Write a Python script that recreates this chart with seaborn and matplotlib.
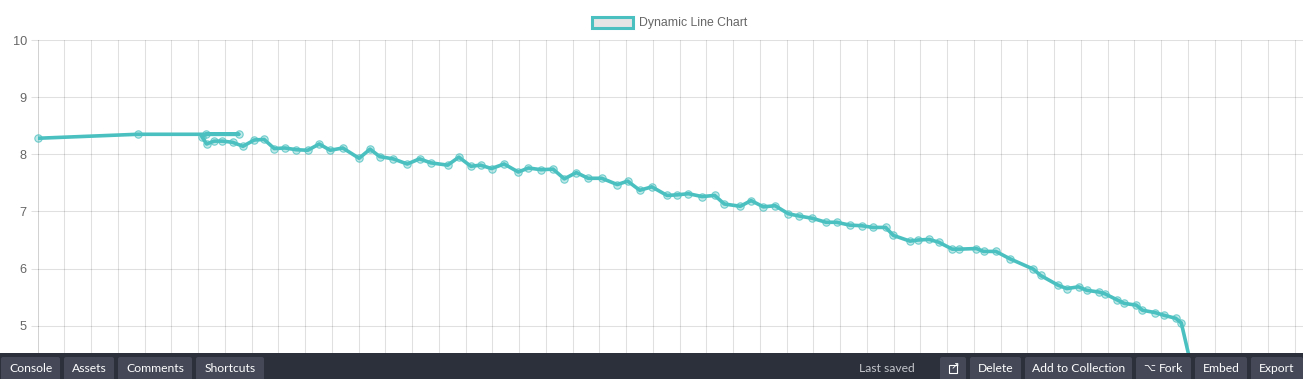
import matplotlib
matplotlib.use("Agg")
import matplotlib.pyplot as plt
import seaborn as sns
import numpy as np
from matplotlib.patches import Patch, Rectangle, FancyBboxPatch
from matplotlib.transforms import IdentityTransform

W, H = 1303, 379

# Values (x in grid-column units)
x_values = [0.0, 3.74, 7.52, 6.30, 6.14, 6.32, 6.60, 6.91, 7.29, 7.68, 8.10, 8.47, 8.85, 9.25, 9.67, 10.10,
            10.53, 10.94, 11.41, 12.02, 12.43, 12.79, 13.29, 13.82, 14.28, 14.70, 15.33, 15.75, 16.20, 16.56,
            16.97, 17.44, 17.97, 18.35, 18.82, 19.27, 19.69, 20.14, 20.58, 21.09, 21.67, 22.06, 22.51, 22.96,
            23.53, 23.91, 24.33, 24.84, 25.31, 25.67, 26.27, 26.67, 27.13, 27.57, 28.06, 28.46, 28.96, 29.47,
            29.87, 30.36, 30.80, 31.22, 31.70, 31.99, 32.61, 32.92, 33.33, 33.69, 34.19, 34.45, 35.09, 35.36,
            35.82, 36.35, 37.22, 37.49, 38.14, 38.47, 38.91, 39.21, 39.66, 39.89, 40.36, 40.62, 41.07, 41.30,
            41.77, 42.12, 42.54, 42.75, 43.27]
y_values = [8.28, 8.35, 8.35, 8.35, 8.31, 8.18, 8.23, 8.23, 8.21, 8.14, 8.25, 8.26, 8.10, 8.11, 8.08, 8.07,
            8.18, 8.07, 8.11, 7.93, 8.09, 7.96, 7.92, 7.83, 7.92, 7.85, 7.81, 7.95, 7.79, 7.81,
            7.75, 7.83, 7.69, 7.76, 7.73, 7.74, 7.57, 7.68, 7.58, 7.58, 7.47, 7.53, 7.37, 7.43,
            7.28, 7.29, 7.31, 7.26, 7.28, 7.13, 7.09, 7.19, 7.08, 7.10, 6.96, 6.92, 6.88, 6.81,
            6.81, 6.76, 6.75, 6.72, 6.72, 6.58, 6.48, 6.50, 6.51, 6.46, 6.34, 6.34, 6.35, 6.30,
            6.30, 6.17, 5.99, 5.88, 5.71, 5.65, 5.68, 5.62, 5.59, 5.56, 5.45, 5.39, 5.36, 5.27,
            5.23, 5.18, 5.13, 5.05, 4.00]
y_ticks = [5, 6, 7, 8, 9, 10]
series_label = "Dynamic Line Chart"
left_buttons = ["Console", "Assets", "Comments", "Shortcuts"]
right_buttons = ["Delete", "Add to Collection", "Fork", "Embed", "Export"]
status_text = "Last saved"

TEAL = "#4bc0c0"
GRID_ALPHA = 0.12
LABEL = "#666666"
BAR = "#2c303a"
BTN = "#444857"
BTN_TEXT = "#ffffff"

sns.set_style("white")
plt.rcParams["font.family"] = ["Liberation Sans", "DejaVu Sans"]

fig = plt.figure(figsize=(W / 100, H / 100), dpi=100, facecolor="white")
AX_L, AX_T, AX_B = 37.5, 40.0, 353
ax = fig.add_axes([AX_L / W, 1 - AX_B / H, 1 - AX_L / W, (AX_B - AX_T) / H])
ax.set_facecolor("white")

sns.lineplot(x=x_values, y=y_values, sort=False, estimator=None, color=TEAL, linewidth=2.6, ax=ax, zorder=3,
             solid_joinstyle="round", solid_capstyle="round")
sns.scatterplot(x=x_values[:-1], y=y_values[:-1], s=28, marker="o", facecolor=(75 / 255, 192 / 255, 192 / 255, 0.35),
                edgecolor=(75 / 255, 192 / 255, 192 / 255, 0.75), linewidth=0.8, ax=ax, zorder=4, clip_on=False)

ax.set_xlim(0, (W - AX_L) / 26.755)
ax.set_ylim(10 - (AX_B - AX_T) / 57.14, 10)
ax.set_xticks(np.arange(0, 48))
ax.set_yticks(y_ticks)
ax.set_xticklabels([])
ax.set_yticklabels([str(t) for t in y_ticks], fontsize=9.2, color=LABEL)
ax.grid(True, color="black", alpha=GRID_ALPHA, linewidth=0.75)
ax.set_axisbelow(True)
ax.tick_params(axis="y", length=5.2, width=0.75, color="black", pad=2.5, left=True)
for tick in ax.yaxis.get_major_ticks():
    tick.tick1line.set_alpha(GRID_ALPHA)
ax.tick_params(axis="x", length=0)
for side in ("top", "right", "bottom"):
    ax.spines[side].set_visible(False)
ax.spines["left"].set_color("black")
ax.spines["left"].set_alpha(0.06)
ax.spines["left"].set_linewidth(0.75)

handle = Patch(facecolor="#e5e5e5", edgecolor=TEAL, linewidth=2.2, label=series_label)
fig.legend(handles=[handle], loc="center left", bbox_to_anchor=(587 / W, 1 - 23 / H), frameon=False,
           fontsize=8.85, labelcolor=LABEL, handlelength=3.35, handleheight=1.0, handletextpad=0.5,
           borderpad=0.4, borderaxespad=0)

# Editor toolbar, in pixel coordinates
px = IdentityTransform()
def y_px(y):
    return H - y

fig.add_artist(Rectangle((0, 0), W, H - AX_B, transform=px, facecolor=BAR, edgecolor="none", zorder=10))

def label_at(x, text, color=BTN_TEXT, family="Lato", size=8.7, y=368.5):
    fig.text(x, y_px(y), text, transform=px, ha="center", va="center", color=color,
             fontsize=size, family=family, zorder=12)

def button(x0, x1, label=None):
    fig.add_artist(FancyBboxPatch((x0 + 2, -6), x1 - x0 - 4, H - 357 + 4, transform=px,
                                  boxstyle="round,pad=2", facecolor=BTN, edgecolor="none", zorder=11))
    if label:
        label_at((x0 + x1) / 2, label)

for (x0, x1), lab in zip([(1, 60), (64, 114), (118, 192), (196, 264)], left_buttons):
    button(x0, x1, lab)
button(940, 966)
for (x0, x1), lab in zip([(970, 1021), (1025, 1132), (1136, 1191), (1195, 1247), (1251, 1303)], right_buttons):
    if lab == "Fork":
        button(x0, x1)
        label_at(1171, lab)
        label_at(1149, "\u2325", family="DejaVu Sans", size=7.5, y=368)
    else:
        button(x0, x1, lab)
label_at(887, status_text, color="#c4c6cc")
# external-link icon
fig.add_artist(Rectangle((949, H - 373), 8, 8, transform=px, facecolor="none", edgecolor=BTN_TEXT,
                         linewidth=0.8, zorder=12))
label_at(955, "\u2197", family="DejaVu Sans", size=7.5, y=366)

fig.savefig("out.png", dpi=100, facecolor="white")
